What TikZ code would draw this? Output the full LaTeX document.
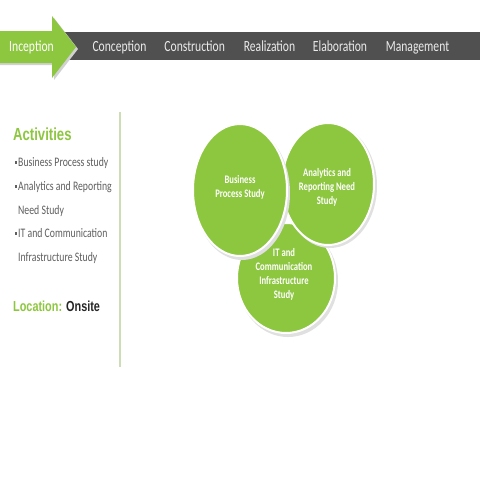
\documentclass[tikz,border=0pt]{standalone}
\usepackage{fontspec}
\setmainfont{Carlito}
\newfontfamily\sq[FakeStretch=0.75]{Carlito}
\newfontfamily\sqh[FakeStretch=0.75]{Liberation Sans}
\definecolor{lgreen}{RGB}{141,198,63}
\definecolor{bargray}{RGB}{80,80,80}
\definecolor{bartext}{RGB}{235,235,235}
\definecolor{bodygray}{RGB}{95,95,95}
\definecolor{sepline}{RGB}{205,222,182}
\tikzset{
  phase/.style={anchor=base, inner sep=0pt, text=bartext, font=\sq\fontsize{15.5}{18}\selectfont},
  bullettext/.style={anchor=base west, inner sep=0pt, text=bodygray, font=\sq\fontsize{13}{15}\selectfont},
  bulletmark/.style={fill=bodygray},
  heading/.style={anchor=base west, inner sep=0pt, text=lgreen, font=\sqh\bfseries\fontsize{17.5}{20}\selectfont},
  disc/.style={fill=lgreen, draw=white, line width=2pt},
  discshadow/.style={fill=black!12},
  disctext/.style={align=center, inner sep=0pt, text=white, font=\sq\bfseries\fontsize{11.5}{14}\selectfont}
}
\begin{document}
\begin{tikzpicture}[x=1pt,y=-1pt]
\useasboundingbox (0,0) rectangle (480,480);
\fill[white] (0,0) rectangle (480,480);
% top bar
\fill[bargray] (0,32) rectangle (480,60);
% green arrow
\fill[black!18] (0,33) -- (54,33) -- (54,18) -- (78,49) -- (54,80) -- (54,65) -- (0,65) -- cycle;
\fill[lgreen] (0,31) -- (52,31) -- (52,16) -- (76,47) -- (52,78) -- (52,63) -- (0,63) -- cycle;
\node[phase, text=white] (inception) at (31.5,51.5) {Inception};
\node[phase] (conception) at (119.5,51.5) {Conception};
\node[phase] (construction) at (194.7,51.5) {Construction};
\node[phase] (realization) at (269.5,51.5) {Realization};
\node[phase] (elaboration) at (340,51.5) {Elaboration};
\node[phase] (management) at (417.5,51.5) {Management};
% left panel
\node[heading] (activities) at (13,140) {Activities};
\fill[bulletmark] (14.5,161) rectangle (17.3,164);
\node[bullettext] (b1) at (18,166) {Business Process study};
\fill[bulletmark] (14.5,185) rectangle (17.3,188);
\node[bullettext] (b2) at (18,190) {Analytics and Reporting};
\node[bullettext] (b2b) at (18,214) {Need Study};
\fill[bulletmark] (14.5,232) rectangle (17.3,235);
\node[bullettext] (b3) at (18,237) {IT and Communication};
\node[bullettext] (b3b) at (18,261) {Infrastructure Study};
\node[heading, font=\sqh\bfseries\fontsize{14.5}{17}\selectfont] (loc) at (13,311) {Location: \textcolor{black!85}{Onsite}};
% separator
\draw[sepline, line width=1.3pt] (120,112) -- (120,367);
% discs
\fill[discshadow] (288,281) ellipse [x radius=50, y radius=56];
\fill[disc] (286,278) ellipse [x radius=49, y radius=55];
\fill[discshadow] (330,186) ellipse [x radius=47, y radius=62];
\fill[disc] (328,184) ellipse [x radius=46, y radius=61];
\fill[discshadow] (242,193) ellipse [x radius=48, y radius=67];
\fill[disc] (240,190) ellipse [x radius=47, y radius=66];
\node[disctext] (t1) at (240,187) {Business\\Process Study};
\node[disctext] (t2) at (327,187) {Analytics and\\Reporting Need\\Study};
\node[disctext] (t3) at (284,274) {IT and\\Communication\\Infrastructure\\Study};
\end{tikzpicture}
\end{document}
